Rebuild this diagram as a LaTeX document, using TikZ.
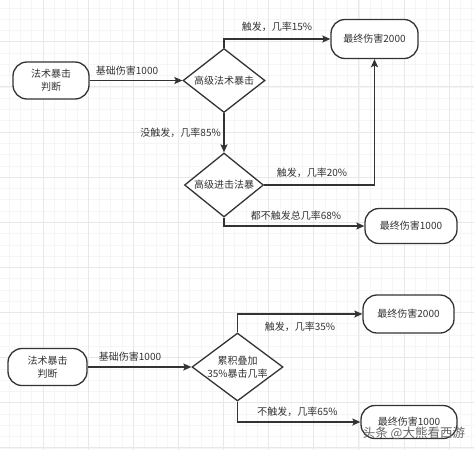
\documentclass[tikz,border=0pt]{standalone}
\usepackage{fontspec}
\newfontfamily\cjk{Noto Sans CJK SC}
\usetikzlibrary{shapes.geometric,arrows.meta}
\begin{document}
\begin{tikzpicture}[x=1pt,y=-1pt,
  lbl/.style={font=\cjk\fontsize{10}{13}\selectfont, text=black!80, align=center, inner sep=0pt},
  box/.style={lbl, draw=black!80, line width=1.3pt, rounded corners=14pt, fill=white},
  dia/.style={draw=black!80, line width=1.3pt, diamond, inner sep=0pt, fill=white},
  arr/.style={draw=black!80, line width=1.3pt, -{Stealth[length=8pt,width=7pt,inset=1.5pt]}},
  minor/.style={draw=black!4, line width=0.6pt},
  major/.style={draw=black!9, line width=0.8pt}]
\useasboundingbox (0,0) rectangle (474,450);
\fill[white] (0,0) rectangle (474,450);
% grid
\foreach \i in {0,...,42} {
  \pgfmathsetmacro{\gx}{9.16+11.28*\i}
  \draw[minor] (\gx,0) -- (\gx,450);
}
\foreach \i in {0,...,40} {
  \pgfmathsetmacro{\gy}{7.92+11.28*\i}
  \draw[minor] (0,\gy) -- (474,\gy);
}
\foreach \i in {-1,...,10} {
  \pgfmathsetmacro{\gx}{43+45.12*\i}
  \draw[major] (\gx,0) -- (\gx,450);
}
\foreach \i in {-3,...,7} {
  \pgfmathsetmacro{\gy}{132+45.12*\i}
  \draw[major] (0,\gy) -- (474,\gy);
}
% top diagram
\node[box, minimum width=76pt, minimum height=37pt] (b1) at (51,80.5) {法术暴击\\判断};
\node[dia, minimum width=82pt, minimum height=64pt] (d1) at (224,80.5) {};
\node[lbl] (d1t) at (d1) {高级法术暴击};
\node[box, minimum width=87pt, minimum height=39pt] (b2) at (374.5,39) {最终伤害2000};
\node[dia, minimum width=79pt, minimum height=64pt] (d2) at (224,185) {};
\node[lbl] (d2t) at (d2) {高级进击法暴};
\node[box, minimum width=92pt, minimum height=35pt] (b3) at (411,226) {最终伤害1000};
\draw[arr] (b1.east) -- (d1.west);
\draw[arr] (d1.north) |- (b2.west);
\draw[arr] (d1.south) -- (d2.north);
\draw[arr] (d2.east) -| (b2.south);
\draw[arr] (d2.south) |- (b3.west);
\node[lbl] (l1) at (127,71) {基础伤害1000};
\node[lbl] (l2) at (277,27) {触发，几率15\%};
\node[lbl, anchor=east] (l3) at (221,133) {没触发，几率85\%};
\node[lbl] (l4) at (312,173) {触发，几率20\%};
\node[lbl] (l5) at (296,216) {都不触发总几率68\%};
% bottom diagram
\node[box, minimum width=79pt, minimum height=37pt] (c1) at (47.5,367) {法术暴击\\判断};
\node[dia, minimum width=91pt, minimum height=68pt] (e1) at (237.5,367) {};
\node[lbl] (e1t) at (e1) {累积叠加\\35\%暴击几率};
\node[box, minimum width=91pt, minimum height=38pt] (c2) at (408.5,314) {最终伤害2000};
\node[box, minimum width=96pt, minimum height=33pt] (c3) at (409,422) {最终伤害1000};
\draw[arr] (c1.east) -- (e1.west);
\draw[arr] (e1.north) |- (c2.west);
\draw[arr] (e1.south) |- (c3.west);
\node[lbl] (m1) at (130,357) {基础伤害1000};
\node[lbl] (m2) at (300,327) {触发，几率35\%};
\node[lbl] (m3) at (297.5,412) {不触发，几率65\%};
\node[font=\cjk\fontsize{12.5}{14}\selectfont, text=black!60, inner sep=0pt] (wm) at (414,433) {头条 @大熊看西游};
\end{tikzpicture}
\end{document}
